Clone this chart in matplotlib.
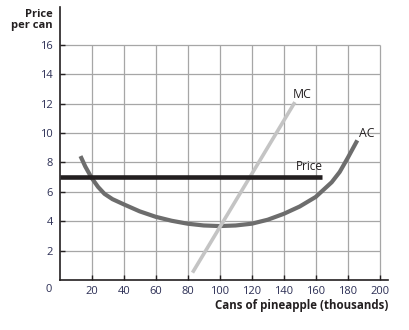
import matplotlib
matplotlib.use("Agg")
import matplotlib.pyplot as plt

# values
ac_x = [13, 16, 20, 24, 28, 33, 40, 50, 60, 70, 80, 90, 100, 110, 120, 130, 140, 150, 160, 170, 175, 180, 183, 186]
ac_y = [8.43, 7.72, 6.94, 6.33, 5.86, 5.5, 5.15, 4.67, 4.3, 4.03, 3.83, 3.71, 3.67, 3.71, 3.83, 4.1, 4.5, 5.0, 5.65, 6.65, 7.35, 8.3, 8.9, 9.5]
mc_x = [83, 147]
mc_y = [0.5, 12.1]
price_x = [0, 164]
price_y = [7, 7]

x_ticks = [20, 40, 60, 80, 100, 120, 140, 160, 180, 200]
y_ticks = [2, 4, 6, 8, 10, 12, 14, 16]

plt.rcParams["font.family"] = ["Open Sans", "DejaVu Sans"]
tick_color = "#2c2f55"

fig = plt.figure(figsize=(4.1, 3.3), dpi=100)
ax = fig.add_axes([0.1456, 0.1515, 0.80, 0.8285])
ax.set_xlim(0, 205)
ax.set_ylim(0, 18.6)

# grid only inside the 0-200 / 0-16 box
ax.vlines(x_ticks, 0, 16, color="#a6a6a6", linewidth=0.9, zorder=1)
ax.hlines(y_ticks, 0, 200, color="#a6a6a6", linewidth=0.9, zorder=1)

ax.plot(ac_x, ac_y, color="#6d6d6d", linewidth=3.0, solid_capstyle="butt",
        solid_joinstyle="round", zorder=3)
ax.plot(mc_x, mc_y, color="#c4c4c4", linewidth=2.6, solid_capstyle="butt", zorder=3)
ax.plot(price_x, price_y, color="#231f20", linewidth=3.3, solid_capstyle="butt", zorder=4)

ax.text(151.5, 12.6, "MC", fontsize=8.8, color="#231f20", ha="center", va="center")
ax.text(192, 10.0, "AC", fontsize=8.8, color="#231f20", ha="center", va="center")
ax.text(147.5, 7.25, "Price", fontsize=8.5, color="#231f20", ha="left", va="bottom")

for s in ["top", "right"]:
    ax.spines[s].set_visible(False)
for s in ["left", "bottom"]:
    ax.spines[s].set_linewidth(1.2)
    ax.spines[s].set_color("#231f20")

ax.set_xticks(x_ticks)
ax.set_yticks(y_ticks)
ax.tick_params(direction="in", length=3.6, width=1.0, color="#231f20",
               labelsize=8, labelcolor=tick_color)
ax.tick_params(axis="y", pad=5)
ax.tick_params(axis="x", pad=4)

fig.text(49 / 410, 1 - 290 / 330, "0", fontsize=8, color=tick_color, ha="center", va="center")
fig.text(53 / 410, 1 - 20 / 330, "Price\nper can", fontsize=8, fontweight="bold",
         color="#231f20", ha="right", va="center", linespacing=1.1)
fig.text(388 / 410, 1 - 305 / 330, "Cans of pineapple (thousands)", fontsize=8.3,
         fontweight="bold", color="#231f20", ha="right", va="center")

fig.savefig("out.png", dpi=100)
